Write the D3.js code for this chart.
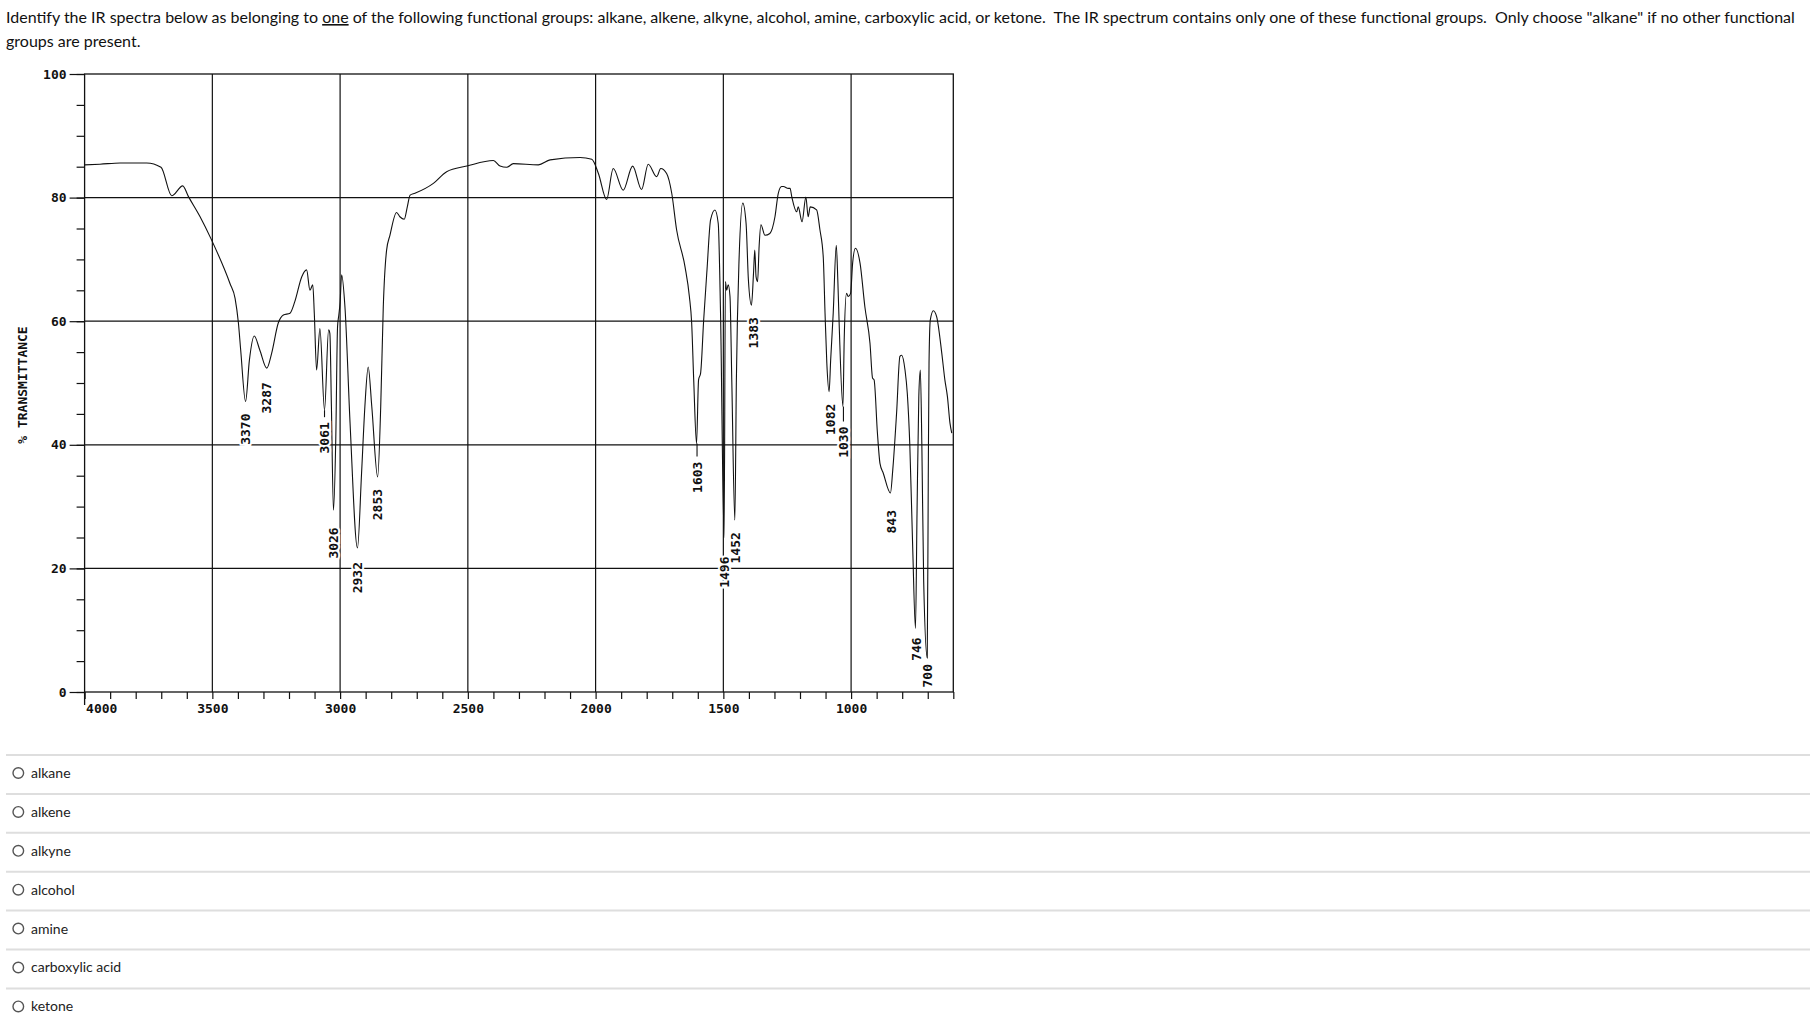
<!DOCTYPE html>
<html>
<head>
<meta charset="utf-8">
<script src="https://cdnjs.cloudflare.com/ajax/libs/d3/7.8.5/d3.min.js"></script>
<style>
  body { margin: 0; background: #fff; }
  svg { display: block; }
  .mono { font-family: "DejaVu Sans Mono", "Liberation Mono", monospace; }
  .lato { font-family: Lato, "Open Sans", sans-serif; }
</style>
</head>
<body>
<script>

// spectrum trace: wavenumber (cm-1) -> % transmittance
var wavenumbers = [
  4000, 3940, 3861, 3757, 3701, 3659, 3616, 3594, 3548, 3506,
  3431, 3411, 3398, 3389, 3370, 3355, 3336, 3314, 3287, 3268,
  3242, 3222, 3196, 3177, 3150, 3131, 3118, 3107, 3101, 3092,
  3079, 3061, 3045, 3040, 3034, 3026, 3017, 3010, 3005, 3000,
  2994, 2981, 2961, 2932, 2916, 2903, 2890, 2876, 2853, 2841,
  2831, 2818, 2805, 2779, 2766, 2749, 2737, 2726, 2707, 2635,
  2583, 2504, 2400, 2374, 2348, 2322, 2224, 2178, 2061, 2015,
  1989, 1957, 1931, 1892, 1855, 1820, 1794, 1761, 1745, 1722,
  1702, 1683, 1650, 1633, 1624, 1616, 1605, 1597, 1589, 1577,
  1564, 1550, 1533, 1520, 1511, 1497, 1492, 1487, 1481, 1474,
  1467, 1455, 1449, 1445, 1439, 1424, 1411, 1402, 1390, 1382,
  1377, 1372, 1366, 1360, 1353, 1337, 1318, 1298, 1285, 1272,
  1265, 1246, 1239, 1232, 1213, 1207, 1192, 1177, 1168, 1160,
  1135, 1122, 1109, 1102, 1095, 1086, 1080, 1070, 1058, 1052,
  1046, 1032, 1027, 1018, 1011, 1002, 994, 983, 965, 946,
  926, 916, 910, 897, 887, 874, 846, 837, 822, 809,
  802, 789, 780, 770, 759, 748, 742, 735, 729, 723,
  716, 702, 698, 695, 690, 678, 665, 645, 633, 623,
  613, 606
];
var transmittance = [
  85.3, 85.4, 85.6, 85.6, 84.9, 80.3, 81.9, 80.2, 76.9, 73.4,
  66.1, 63.7, 59.7, 55.3, 47.0, 53.7, 57.6, 55.3, 52.4, 54.8,
  59.7, 61.0, 61.3, 63.2, 67.2, 68.3, 65.0, 65.9, 61.3, 52.1,
  58.8, 45.6, 58.6, 58.0, 46.2, 29.4, 40.8, 59.1, 61.0, 63.0,
  67.5, 62.3, 43.5, 23.3, 35.4, 46.2, 52.6, 46.2, 34.8, 46.2,
  62.3, 71.5, 73.9, 77.6, 76.9, 76.5, 78.5, 80.4, 80.7, 82.3,
  84.2, 85.1, 86.0, 85.1, 84.9, 85.5, 85.3, 86.1, 86.5, 86.2,
  83.9, 79.7, 84.7, 81.2, 85.1, 81.3, 85.4, 83.4, 84.7, 83.9,
  80.7, 74.8, 68.8, 64.0, 59.7, 50.5, 40.2, 50.5, 51.6, 60.2,
  68.3, 76.4, 78.0, 75.8, 61.3, 25.0, 66.4, 65.0, 65.9, 64.0,
  50.5, 27.8, 50.5, 60.2, 69.4, 79.1, 75.8, 66.7, 62.6, 67.7,
  71.5, 67.2, 66.4, 72.1, 75.6, 73.9, 74.2, 76.9, 80.7, 81.8,
  81.8, 81.5, 81.5, 80.1, 77.7, 78.5, 76.1, 80.1, 76.9, 78.5,
  78.0, 74.8, 70.4, 61.3, 53.2, 48.6, 53.7, 61.3, 72.3, 66.7,
  58.6, 46.2, 57.0, 64.5, 64.0, 64.5, 69.4, 71.8, 69.4, 62.3,
  56.4, 50.8, 50.5, 41.9, 37.0, 35.4, 32.2, 35.9, 45.1, 54.3,
  54.5, 52.1, 48.3, 39.7, 23.5, 10.3, 28.9, 47.8, 52.1, 39.7,
  18.1, 5.5, 34.3, 53.2, 60.2, 61.7, 60.7, 54.8, 50.5, 47.8,
  43.5, 41.9
];

// labelled absorption bands
var peakLabels = [3370, 3287, 3061, 3026, 2932, 2853, 1603, 1496, 1452, 1383, 1082, 1030, 843, 746, 700];

// axis ticks
var xTicks = [4000, 3500, 3000, 2500, 2000, 1500, 1000];
var yTicks = [0, 20, 40, 60, 80, 100];

var questionLine1 = 'Identify the IR spectra below as belonging to |one| of the following functional groups: alkane, alkene, alkyne, alcohol, amine, carboxylic acid, or ketone.  The IR spectrum contains only one of these functional groups.  Only choose "alkane" if no other functional';
var questionLine2 = 'groups are present.';
var choices = ["alkane", "alkene", "alkyne", "alcohol", "amine", "carboxylic acid", "ketone"];

var spectrum = wavenumbers.map(function(w, i) { return {w: w, t: transmittance[i]}; });

// page
var svg = d3.select("body")
  .append("svg")
    .attr("width", 1810)
    .attr("height", 1024);

svg.append("rect").attr("width", 1810).attr("height", 1024).attr("fill", "#fff");

// question text
var q1 = svg.append("text")
    .attr("class", "lato")
    .attr("x", 6)
    .attr("y", 23)
    .style("font-size", "15px")
    .style("white-space", "pre")
    .attr("fill", "#111");
questionLine1.split("|").forEach(function(part, i) {
  var ts = q1.append("tspan").text(part);
  if (i === 1) ts.style("text-decoration", "underline");
});
var q2 = svg.append("text")
    .attr("class", "lato")
    .attr("x", 6)
    .attr("y", 47)
    .style("font-size", "15px")
    .attr("fill", "#111")
    .text(questionLine2);

// fit the first line to the width it has in the reference
var len = q1.node().getComputedTextLength();
var fs = 15 * 1789 / len;
q1.style("font-size", fs + "px");
q2.style("font-size", fs + "px");

// chart
var margin = {top: 74, left: 84.6},
    width = 868.7,
    height = 618;

var g = svg.append("g")
    .attr("transform", "translate(" + margin.left + "," + margin.top + ")");

var x = d3.scaleLinear()
  .domain([4000, 600])
  .range([0, width]);

var y = d3.scaleLinear()
  .domain([0, 100])
  .range([height, 0]);

var ink = "#111";
var monoFont = '"DejaVu Sans Mono", "Liberation Mono", monospace';

// grid
g.selectAll(".vgrid")
  .data(xTicks.filter(function(d) { return d !== 4000; }))
  .enter()
  .append("line")
    .attr("x1", function(d) { return x(d); })
    .attr("x2", function(d) { return x(d); })
    .attr("y1", 0)
    .attr("y2", height)
    .attr("stroke", ink)
    .attr("stroke-width", 1.2);

g.selectAll(".hgrid")
  .data(yTicks.filter(function(d) { return d > 0 && d < 100; }))
  .enter()
  .append("line")
    .attr("x1", 0)
    .attr("x2", width)
    .attr("y1", function(d) { return y(d); })
    .attr("y2", function(d) { return y(d); })
    .attr("stroke", ink)
    .attr("stroke-width", 1.2);

g.append("rect")
  .attr("width", width)
  .attr("height", height)
  .attr("fill", "none")
  .attr("stroke", ink)
  .attr("stroke-width", 1.3);

// Y axis: minor ticks every 5, labelled ones every 20
var yMinor = g.append("g")
  .call(d3.axisLeft(y).tickValues(d3.range(0, 101, 5)).tickSize(8).tickFormat(""));
var yMajor = g.append("g")
  .call(d3.axisLeft(y).tickValues(yTicks).tickSize(15).tickPadding(3));

// X axis: ticks every 100 below the frame
var xMinor = g.append("g")
  .attr("transform", "translate(0," + height + ")")
  .call(d3.axisBottom(x).tickValues(d3.range(4000, 599, -100)).tickSize(7).tickFormat(""));
var xMajor = g.append("g")
  .attr("transform", "translate(0," + height + ")")
  .call(d3.axisBottom(x).tickValues(xTicks).tickSize(0).tickPadding(12).tickFormat(d3.format("d")));
xMajor.selectAll(".tick").filter(function(d) { return d === 4000; })
  .select("text").attr("text-anchor", "start").attr("x", 1);
g.append("line")
  .attr("x1", 0).attr("x2", 0)
  .attr("y1", height).attr("y2", height + 13)
  .attr("stroke", ink).attr("stroke-width", 1.3);

[yMinor, yMajor, xMinor, xMajor].forEach(function(a) {
  a.attr("font-family", null).attr("font-size", null);
  a.select(".domain").remove();
  a.selectAll("line").attr("stroke", ink).attr("stroke-width", 1.2);
  a.selectAll("text")
    .attr("fill", ink)
    .style("font-family", monoFont)
    .style("font-size", "13px")
    .style("font-weight", "bold");
});

// axis title
svg.append("text")
  .attr("transform", "translate(22,385) rotate(-90)")
  .attr("text-anchor", "middle")
  .attr("dy", "0.35em")
  .style("font-family", monoFont)
  .style("font-size", "13px")
  .style("font-weight", "bold")
  .attr("fill", ink)
  .text("% TRANSMITTANCE");

// spectrum trace
var line = d3.line()
  .x(function(d) { return x(d.w); })
  .y(function(d) { return y(d.t); })
  .curve(d3.curveMonotoneX);

g.append("path")
  .datum(spectrum)
  .attr("d", line)
  .attr("fill", "none")
  .attr("stroke", ink)
  .attr("stroke-width", 1.1);

// peak labels sit just under the band minimum
var labelGap = {3287: 14, 3026: 17, 2932: 14, 1603: 18, 1496: 19, 1030: 20, 843: 17, 746: 9, 700: 6};
var leaders = [3061, 1603, 1030];

var peaks = peakLabels.map(function(p) {
  var near = spectrum.filter(function(d) { return Math.abs(d.w - p) <= 8; });
  var depth = d3.min(near, function(d) { return d.t; });
  var gap = labelGap[p] || 12;
  return {w: p, depth: depth, top: y(depth) + gap};
});

g.selectAll(".leader")
  .data(peaks.filter(function(d) { return leaders.indexOf(d.w) >= 0; }))
  .enter()
  .append("line")
    .attr("x1", function(d) { return x(d.w); })
    .attr("x2", function(d) { return x(d.w); })
    .attr("y1", function(d) { return y(d.depth); })
    .attr("y2", function(d) { return d.top - 5; })
    .attr("stroke", ink)
    .attr("stroke-width", 1.1);

g.selectAll(".peaklabel")
  .data(peaks)
  .enter()
  .append("text")
    .attr("transform", function(d) { return "translate(" + x(d.w) + "," + d.top + ") rotate(-90)"; })
    .attr("text-anchor", "end")
    .attr("dy", "0.36em")
    .style("font-family", monoFont)
    .style("font-size", "13px")
    .style("font-weight", "bold")
    .style("paint-order", "stroke")
    .attr("stroke", "#fff")
    .attr("stroke-width", 4)
    .attr("fill", ink)
    .text(function(d) { return d.w; });

// answer choices
var rowTop = 755, rowStep = 38.9;
var opts = svg.append("g");
opts.selectAll(".sep")
  .data(choices)
  .enter()
  .append("line")
    .attr("x1", 6)
    .attr("x2", 1810)
    .attr("y1", function(d, i) { return rowTop + i * rowStep; })
    .attr("y2", function(d, i) { return rowTop + i * rowStep; })
    .attr("stroke", "#dedede")
    .attr("stroke-width", 2);

opts.selectAll(".radio")
  .data(choices)
  .enter()
  .append("circle")
    .attr("cx", 18.3)
    .attr("cy", function(d, i) { return rowTop + i * rowStep + 18; })
    .attr("r", 5.3)
    .attr("fill", "#fff")
    .attr("stroke", "#555")
    .attr("stroke-width", 1.4);

opts.selectAll(".choice")
  .data(choices)
  .enter()
  .append("text")
    .attr("class", "lato")
    .attr("x", 31)
    .attr("y", function(d, i) { return rowTop + i * rowStep + 18; })
    .attr("dy", "0.35em")
    .style("font-size", "14px")
    .attr("fill", "#222")
    .text(function(d) { return d; });

</script>
</body>
</html>
